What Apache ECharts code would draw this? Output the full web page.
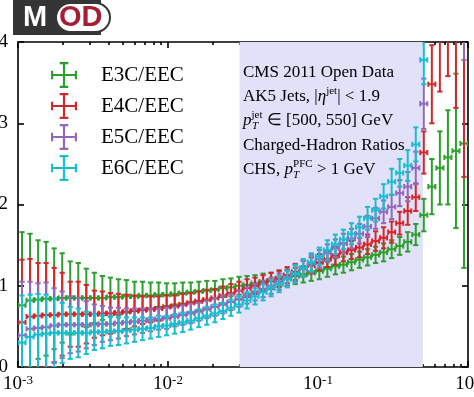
<!DOCTYPE html>
<html>
<head>
<meta charset="utf-8">
<script src="https://cdn.jsdelivr.net/npm/echarts@6.0.0/dist/echarts.min.js"></script>
<style>
  html, body { margin: 0; padding: 0; background: #fff; }
  #main { width: 474px; height: 397px; }
</style>
</head>
<body>
<div id="main"></div>
<script>
// log-spaced bins from 1e-3 to 1
const NBINS = 56;
const LOG_MIN = -3;
const LOG_MAX = 0;

const seriesNames = ['E3C/EEC', 'E4C/EEC', 'E5C/EEC', 'E6C/EEC'];
const seriesColors = ['#2ca02c', '#d62728', '#9467bd', '#17becf'];

const e3c = [0.76,0.82,0.83,0.84,0.84,0.85,0.85,0.85,0.85,0.85,
  0.85,0.86,0.86,0.87,0.87,0.88,0.88,0.89,0.89,0.90,
  0.91,0.92,0.93,0.94,0.95,0.97,0.98,1.00,1.01,1.03,
  1.05,1.06,1.08,1.10,1.12,1.14,1.16,1.18,1.21,1.24,
  1.26,1.29,1.32,1.35,1.38,1.41,1.45,1.49,1.54,1.63,
  1.87,2.22,2.45,2.58,2.66,2.75];
const e3cErr = [0.90,0.82,0.73,0.70,0.62,0.55,0.45,0.43,0.36,0.31,
  0.27,0.24,0.22,0.20,0.18,0.17,0.16,0.15,0.14,0.13,
  0.13,0.12,0.12,0.12,0.11,0.11,0.11,0.11,0.11,0.10,
  0.10,0.10,0.10,0.10,0.10,0.10,0.10,0.10,0.10,0.10,
  0.10,0.10,0.10,0.10,0.10,0.11,0.11,0.11,0.12,0.13,
  0.20,0.34,0.45,0.58,0.95,1.53];

const e4c = [0.55,0.62,0.63,0.64,0.64,0.65,0.65,0.65,0.65,0.65,
  0.66,0.66,0.67,0.68,0.69,0.70,0.71,0.72,0.74,0.75,
  0.77,0.79,0.81,0.83,0.85,0.88,0.91,0.94,0.97,1.00,
  1.03,1.06,1.09,1.13,1.17,1.21,1.25,1.29,1.33,1.37,
  1.41,1.44,1.47,1.51,1.55,1.59,1.66,1.77,1.92,2.09,
  2.64,3.48,4.30,4.40,4.50,4.60];
const e4cErr = [0.77,0.71,0.65,0.64,0.58,0.51,0.40,0.40,0.36,0.29,
  0.27,0.25,0.23,0.21,0.19,0.17,0.16,0.15,0.14,0.13,
  0.13,0.12,0.12,0.12,0.11,0.11,0.11,0.11,0.11,0.10,
  0.10,0.10,0.10,0.10,0.10,0.10,0.10,0.10,0.10,0.11,
  0.11,0.11,0.12,0.12,0.12,0.13,0.13,0.14,0.17,0.17,
  0.26,0.48,0.91,0.82,1.31,2.26];

const e5c = [0.39,0.47,0.48,0.49,0.51,0.52,0.52,0.52,0.52,0.52,
  0.53,0.53,0.54,0.55,0.56,0.57,0.58,0.59,0.60,0.62,
  0.64,0.66,0.68,0.71,0.74,0.77,0.80,0.84,0.88,0.92,
  0.96,1.00,1.05,1.10,1.15,1.21,1.27,1.33,1.40,1.46,
  1.52,1.58,1.64,1.73,1.83,1.91,1.97,2.14,2.22,2.45,
  3.24,4.40,4.50,4.60,4.70,4.90];
const e5cErr = [0.66,0.58,0.55,0.55,0.46,0.41,0.35,0.33,0.29,0.25,
  0.22,0.20,0.19,0.17,0.16,0.15,0.14,0.13,0.13,0.12,
  0.12,0.12,0.11,0.11,0.11,0.11,0.10,0.10,0.10,0.10,
  0.10,0.10,0.10,0.10,0.10,0.10,0.11,0.11,0.11,0.11,
  0.12,0.12,0.12,0.13,0.13,0.14,0.15,0.16,0.18,0.20,
  0.31,0.35,0.40,0.45,0.50,1.12];

const e6c = [0.30,0.37,0.40,0.41,0.42,0.42,0.42,0.42,0.42,0.43,
  0.43,0.44,0.44,0.45,0.46,0.47,0.48,0.50,0.51,0.53,
  0.55,0.57,0.60,0.63,0.66,0.69,0.73,0.77,0.82,0.87,
  0.92,0.97,1.02,1.08,1.15,1.22,1.29,1.36,1.44,1.51,
  1.57,1.64,1.72,1.83,1.93,2.10,2.28,2.39,2.48,2.74,
  3.78,4.50,4.60,4.70,4.80,5.00];
const e6cErr = [0.58,0.52,0.50,0.48,0.42,0.37,0.32,0.30,0.26,0.22,
  0.20,0.18,0.17,0.16,0.15,0.14,0.13,0.13,0.12,0.12,
  0.12,0.11,0.11,0.11,0.11,0.10,0.10,0.10,0.10,0.10,
  0.10,0.10,0.10,0.10,0.11,0.11,0.11,0.11,0.12,0.12,
  0.12,0.13,0.13,0.14,0.14,0.15,0.16,0.17,0.19,0.21,
  0.30,0.40,0.40,0.40,0.40,0.40];

// shaded fit region
const shadeRange = [0.03, 0.5];

// axis ticks
const xMajorExps = ['-3', '-2', '-1', '0'];
const minorMantissas = [2, 3, 4, 5, 6, 7, 8, 9];
const minorDecades = [0.001, 0.01, 0.1];

const FONT = 'Liberation Serif';
const binEdges = [];
for (let k = 0; k <= NBINS; k++) {
  binEdges.push(Math.pow(10, LOG_MIN + k * (LOG_MAX - LOG_MIN) / NBINS));
}
const minorTicks = [];
for (const d of minorDecades) {
  for (const m of minorMantissas) minorTicks.push(+(m * d).toPrecision(3));
}

function errorBarItem(params, api) {
  const xv = api.value(0), yv = api.value(1), err = api.value(2);
  const c = api.coord([xv, yv]);
  const top = api.coord([xv, yv + err]);
  const bot = api.coord([xv, yv - err]);
  const l = api.coord([api.value(3), yv]);
  const r = api.coord([api.value(4), yv]);
  const style = { stroke: api.visual('color'), lineWidth: 2 };
  const cap = 2.6;
  const line = (x1, y1, x2, y2) => ({ type: 'line', shape: { x1, y1, x2, y2 }, style });
  return {
    type: 'group',
    children: [
      line(c[0], top[1], c[0], bot[1]),
      line(c[0] - cap, top[1], c[0] + cap, top[1]),
      line(c[0] - cap, bot[1], c[0] + cap, bot[1]),
      line(l[0] + 0.5, c[1], r[0] - 0.5, c[1]),
      line(l[0] + 0.5, c[1] - cap, l[0] + 0.5, c[1] + cap),
      line(r[0] - 0.5, c[1] - cap, r[0] - 0.5, c[1] + cap)
    ]
  };
}

function buildSeries(idx, vals, errs) {
  let data = [];
  for (let i = 0; i < vals.length; i++) {
    let center = Math.sqrt(binEdges[i] * binEdges[i + 1]);
    data.push([center, vals[i], errs[i], binEdges[i], binEdges[i + 1]]);
  }
  return {
    type: 'custom',
    name: seriesNames[idx],
    z: 3 + idx,
    clip: true,
    itemStyle: { color: seriesColors[idx] },
    encode: { x: 0, y: 1 },
    renderItem: errorBarItem,
    data: data
  };
}

// errorbar-shaped legend icon
const errIcon = 'path://M0 11H24V13H0Z M11 0H13V24H11Z M8 0H16V2H8Z M8 22H16V24H8Z M0 8H2V16H0Z M22 8H24V16H22Z';

const axisLineStyle = { color: '#000', width: 1.6 };
const logBase = { type: 'log', logBase: 10, min: 0.001, max: 1, splitLine: { show: false } };

function xAxisPair(position, withLabels) {
  return [
    Object.assign({}, logBase, {
      position: position,
      axisLine: { show: true, lineStyle: axisLineStyle },
      axisTick: { show: true, inside: true, length: 6, lineStyle: axisLineStyle },
      axisLabel: withLabels ? {
        show: true,
        margin: 7,
        formatter: function (v) {
          let e = xMajorExps[Math.round(Math.log10(v)) - LOG_MIN];
          return '{b|10}{s|' + e + '}';
        },
        rich: {
          b: { fontFamily: FONT, fontSize: 19, color: '#000', lineHeight: 20 },
          s: { fontFamily: FONT, fontSize: 13, color: '#000', verticalAlign: 'top', lineHeight: 10 }
        }
      } : { show: false }
    }),
    Object.assign({}, logBase, {
      position: position,
      axisLine: { show: false },
      axisTick: { show: true, inside: true, length: 3, customValues: minorTicks, lineStyle: axisLineStyle },
      axisLabel: { show: false }
    })
  ];
}

const chart = echarts.init(document.getElementById('main'), null, { renderer: 'canvas' });

const option = {
  animation: false,
  backgroundColor: '#fff',
  grid: { left: 18, right: 6, top: 42, bottom: 30, containLabel: false, outerBoundsMode: 'none' },
  xAxis: xAxisPair('bottom', true).concat(xAxisPair('top', false)),
  yAxis: [
    {
      type: 'value', min: 0, max: 4, interval: 1, position: 'left',
      axisLine: { show: true, lineStyle: axisLineStyle },
      axisTick: { show: true, inside: true, length: 6, lineStyle: axisLineStyle },
      axisLabel: { margin: 10, fontFamily: FONT, fontSize: 19, color: '#000' },
      splitLine: { show: false }
    },
    {
      type: 'value', min: 0, max: 4, interval: 1, position: 'right',
      axisLine: { show: true, lineStyle: axisLineStyle },
      axisTick: { show: true, inside: true, length: 6, lineStyle: axisLineStyle },
      axisLabel: { show: false },
      splitLine: { show: false }
    }
  ],
  legend: {
    orient: 'vertical',
    left: 46,
    top: 57,
    itemWidth: 26,
    itemHeight: 26,
    itemGap: 5,
    selectedMode: false,
    textStyle: { fontFamily: FONT, fontSize: 21, color: '#000', padding: [0, 0, 0, 19] },
    data: seriesNames.map(n => ({ name: n, icon: errIcon }))
  },
  series: [
    {
      type: 'line',
      name: 'shade',
      z: 1,
      silent: true,
      data: [],
      markArea: {
        silent: true,
        itemStyle: { color: '#e1e1fa' },
        label: { show: false },
        data: [[{ xAxis: shadeRange[0] }, { xAxis: shadeRange[1] }]]
      }
    },
    buildSeries(0, e3c, e3cErr),
    buildSeries(1, e4c, e4cErr),
    buildSeries(2, e5c, e5cErr),
    buildSeries(3, e6c, e6cErr)
  ],
  graphic: [
    // MOD logo
    { type: 'rect', shape: { x: 13, y: 0, width: 88, height: 35 }, style: { fill: '#353535' }, z: 10 },
    { type: 'rect', shape: { x: 56, y: 3, width: 54, height: 29, r: 14.5 }, style: { fill: '#fff', stroke: '#353535', lineWidth: 2 }, z: 11 },
    { type: 'text', x: 23, y: 18, z: 12, style: { text: 'M', fill: '#fff', fontFamily: 'Liberation Sans', fontWeight: 'bold', fontSize: 29, verticalAlign: 'middle' } },
    { type: 'text', x: 59, y: 18, z: 12, style: { text: 'OD', fill: '#a31f34', fontFamily: 'Liberation Sans', fontWeight: 'bold', fontSize: 29, verticalAlign: 'middle' } },
    // annotation text
    { type: 'text', x: 243, y: 73, z: 12, style: { text: 'CMS 2011 Open Data', fill: '#000', fontFamily: FONT, fontSize: 17, verticalAlign: 'middle' } },
    { type: 'text', x: 243, y: 97, z: 12, style: {
      text: '{n|AK5 Jets, |}{i|η}{s|jet}{n|| < 1.9}', verticalAlign: 'middle',
      rich: {
        n: { fontFamily: FONT, fontSize: 17, color: '#000', lineHeight: 22 },
        i: { fontFamily: FONT, fontSize: 17, fontStyle: 'italic', color: '#000', lineHeight: 22 },
        s: { fontFamily: FONT, fontSize: 11, color: '#000', verticalAlign: 'top', lineHeight: 9 }
      } } },
    { type: 'text', x: 243, y: 121, z: 12, style: {
      text: '{i|p}{s|jet}{n| ∈ [500, 550] GeV}', verticalAlign: 'middle',
      rich: {
        n: { fontFamily: FONT, fontSize: 17, color: '#000', lineHeight: 22 },
        i: { fontFamily: FONT, fontSize: 17, fontStyle: 'italic', color: '#000', lineHeight: 22 },
        s: { fontFamily: FONT, fontSize: 11, color: '#000', verticalAlign: 'top', lineHeight: 9 }
      } } },
    { type: 'text', x: 252, y: 126, z: 12, style: { text: 'T', fill: '#000', fontFamily: FONT, fontStyle: 'italic', fontSize: 11, verticalAlign: 'middle' } },
    { type: 'text', x: 243, y: 146, z: 12, style: { text: 'Charged-Hadron Ratios', fill: '#000', fontFamily: FONT, fontSize: 17, verticalAlign: 'middle' } },
    { type: 'text', x: 243, y: 170, z: 12, style: {
      text: '{n|CHS, }{i|p}{s|PFC}{n| > 1 GeV}', verticalAlign: 'middle',
      rich: {
        n: { fontFamily: FONT, fontSize: 17, color: '#000', lineHeight: 22 },
        i: { fontFamily: FONT, fontSize: 17, fontStyle: 'italic', color: '#000', lineHeight: 22 },
        s: { fontFamily: FONT, fontSize: 11, color: '#000', verticalAlign: 'top', lineHeight: 9 }
      } } },
    { type: 'text', x: 293, y: 175, z: 12, style: { text: 'T', fill: '#000', fontFamily: FONT, fontStyle: 'italic', fontSize: 11, verticalAlign: 'middle' } }
  ]
};

chart.setOption(option);
</script>
</body>
</html>
